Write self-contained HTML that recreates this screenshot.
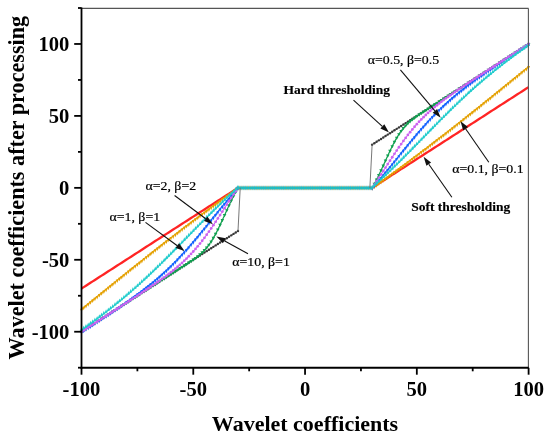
<!DOCTYPE html>
<html><head><meta charset="utf-8"><style>
html,body{margin:0;padding:0;background:#fff;}
body{width:550px;height:439px;overflow:hidden;}
svg{display:block;}
</style></head><body>
<svg width="550" height="439" viewBox="0 0 550 439">
<defs>
<marker id="m_hard" markerUnits="userSpaceOnUse" markerWidth="8" markerHeight="8" refX="4" refY="4"><circle cx="4" cy="4" r="1.2" fill="#383838"/></marker>
<marker id="m_orange" markerUnits="userSpaceOnUse" markerWidth="8" markerHeight="8" refX="4" refY="4"><path d="M2.55,3.5 L5.45,3.5 L4,7.0 Z" fill="#e4a000"/></marker>
<marker id="m_green" markerUnits="userSpaceOnUse" markerWidth="8" markerHeight="8" refX="4" refY="4"><path d="M2.2,2.95 L5.8,2.95 L4,6.15 Z" fill="#10a050"/></marker>
<marker id="m_blue" markerUnits="userSpaceOnUse" markerWidth="8" markerHeight="8" refX="4" refY="4"><path d="M2.55,3.5 L5.45,3.5 L4,7.0 Z" fill="#1060ff"/></marker>
<marker id="m_magenta" markerUnits="userSpaceOnUse" markerWidth="8" markerHeight="8" refX="4" refY="4"><circle cx="4" cy="4" r="1.4" fill="#cc62f0"/></marker>
<marker id="m_cyan" markerUnits="userSpaceOnUse" markerWidth="8" markerHeight="8" refX="4" refY="4"><path d="M2.55,4.5 L5.45,4.5 L4,1.0 Z" fill="#20cccc"/></marker>
</defs>
<rect width="550" height="439" fill="#fff"/>
<polyline points="81.50,331.73 83.74,330.29 85.97,328.85 88.21,327.41 90.44,325.97 92.68,324.54 94.91,323.10 97.15,321.66 99.38,320.22 101.62,318.78 103.86,317.34 106.09,315.90 108.33,314.46 110.56,313.03 112.80,311.59 115.03,310.15 117.27,308.71 119.50,307.27 121.74,305.83 123.97,304.39 126.21,302.95 128.45,301.52 130.68,300.08 132.92,298.64 135.15,297.20 137.39,295.76 139.62,294.32 141.86,292.88 144.09,291.44 146.33,290.00 148.56,288.57 150.80,287.13 153.04,285.69 155.27,284.25 157.51,282.81 159.74,281.37 161.98,279.93 164.21,278.49 166.45,277.06 168.68,275.62 170.92,274.18 173.16,272.74 175.39,271.30 177.63,269.86 179.86,268.42 182.10,266.98 184.33,265.55 186.57,264.11 188.80,262.67 191.04,261.23 193.28,259.79 195.51,258.35 197.75,256.91 199.98,255.47 202.22,254.03 204.45,252.60 206.69,251.16 208.92,249.72 211.16,248.28 213.39,246.84 215.63,245.40 217.87,243.96 220.10,242.52 222.34,241.09 224.57,239.65 226.81,238.21 229.04,236.77 231.28,235.33 233.51,233.89 235.75,232.45 237.99,231.01" fill="none" stroke="#383838" stroke-width="0.7" stroke-linejoin="round" marker-start="url(#m_hard)" marker-mid="url(#m_hard)" marker-end="url(#m_hard)"/>
<polyline points="240.22,187.85 242.46,187.85 244.69,187.85 246.93,187.85 249.16,187.85 251.40,187.85 253.63,187.85 255.87,187.85 258.10,187.85 260.34,187.85 262.58,187.85 264.81,187.85 267.05,187.85 269.28,187.85 271.52,187.85 273.75,187.85 275.99,187.85 278.22,187.85 280.46,187.85 282.69,187.85 284.93,187.85 287.17,187.85 289.40,187.85 291.64,187.85 293.87,187.85 296.11,187.85 298.34,187.85 300.58,187.85 302.81,187.85 305.05,187.85 307.29,187.85 309.52,187.85 311.76,187.85 313.99,187.85 316.23,187.85 318.46,187.85 320.70,187.85 322.93,187.85 325.17,187.85 327.40,187.85 329.64,187.85 331.88,187.85 334.11,187.85 336.35,187.85 338.58,187.85 340.82,187.85 343.05,187.85 345.29,187.85 347.52,187.85 349.76,187.85 352.00,187.85 354.23,187.85 356.47,187.85 358.70,187.85 360.94,187.85 363.17,187.85 365.41,187.85 367.64,187.85 369.88,187.85" fill="none" stroke="#383838" stroke-width="0.7" stroke-linejoin="round" marker-start="url(#m_hard)" marker-mid="url(#m_hard)" marker-end="url(#m_hard)"/>
<polyline points="372.12,144.69 374.35,143.25 376.59,141.81 378.82,140.37 381.06,138.93 383.29,137.49 385.53,136.05 387.76,134.61 390.00,133.18 392.23,131.74 394.47,130.30 396.71,128.86 398.94,127.42 401.18,125.98 403.41,124.54 405.65,123.10 407.88,121.67 410.12,120.23 412.35,118.79 414.59,117.35 416.82,115.91 419.06,114.47 421.30,113.03 423.53,111.59 425.77,110.15 428.00,108.72 430.24,107.28 432.47,105.84 434.71,104.40 436.94,102.96 439.18,101.52 441.42,100.08 443.65,98.64 445.89,97.21 448.12,95.77 450.36,94.33 452.59,92.89 454.83,91.45 457.06,90.01 459.30,88.57 461.54,87.13 463.77,85.70 466.01,84.26 468.24,82.82 470.48,81.38 472.71,79.94 474.95,78.50 477.18,77.06 479.42,75.62 481.65,74.18 483.89,72.75 486.13,71.31 488.36,69.87 490.60,68.43 492.83,66.99 495.07,65.55 497.30,64.11 499.54,62.67 501.77,61.24 504.01,59.80 506.25,58.36 508.48,56.92 510.72,55.48 512.95,54.04 515.19,52.60 517.42,51.16 519.66,49.73 521.89,48.29 524.13,46.85 526.36,45.41 528.60,43.97" fill="none" stroke="#383838" stroke-width="0.7" stroke-linejoin="round" marker-start="url(#m_hard)" marker-mid="url(#m_hard)" marker-end="url(#m_hard)"/>
<polyline points="81.50,288.57 83.74,287.13 85.97,285.69 88.21,284.25 90.44,282.81 92.68,281.37 94.91,279.93 97.15,278.49 99.38,277.06 101.62,275.62 103.86,274.18 106.09,272.74 108.33,271.30 110.56,269.86 112.80,268.42 115.03,266.98 117.27,265.55 119.50,264.11 121.74,262.67 123.97,261.23 126.21,259.79 128.45,258.35 130.68,256.91 132.92,255.47 135.15,254.03 137.39,252.60 139.62,251.16 141.86,249.72 144.09,248.28 146.33,246.84 148.56,245.40 150.80,243.96 153.04,242.52 155.27,241.09 157.51,239.65 159.74,238.21 161.98,236.77 164.21,235.33 166.45,233.89 168.68,232.45 170.92,231.01 173.16,229.58 175.39,228.14 177.63,226.70 179.86,225.26 182.10,223.82 184.33,222.38 186.57,220.94 188.80,219.50 191.04,218.06 193.28,216.63 195.51,215.19 197.75,213.75 199.98,212.31 202.22,210.87 204.45,209.43 206.69,207.99 208.92,206.55 211.16,205.12 213.39,203.68 215.63,202.24 217.87,200.80 220.10,199.36 222.34,197.92 224.57,196.48 226.81,195.04 229.04,193.61 231.28,192.17 233.51,190.73 235.75,189.29 237.99,187.85" fill="none" stroke="#ff2424" stroke-width="2.3" stroke-linejoin="round"/>
<polyline points="372.12,187.85 374.35,186.41 376.59,184.97 378.82,183.53 381.06,182.09 383.29,180.66 385.53,179.22 387.76,177.78 390.00,176.34 392.23,174.90 394.47,173.46 396.71,172.02 398.94,170.58 401.18,169.15 403.41,167.71 405.65,166.27 407.88,164.83 410.12,163.39 412.35,161.95 414.59,160.51 416.82,159.07 419.06,157.64 421.30,156.20 423.53,154.76 425.77,153.32 428.00,151.88 430.24,150.44 432.47,149.00 434.71,147.56 436.94,146.12 439.18,144.69 441.42,143.25 443.65,141.81 445.89,140.37 448.12,138.93 450.36,137.49 452.59,136.05 454.83,134.61 457.06,133.18 459.30,131.74 461.54,130.30 463.77,128.86 466.01,127.42 468.24,125.98 470.48,124.54 472.71,123.10 474.95,121.67 477.18,120.23 479.42,118.79 481.65,117.35 483.89,115.91 486.13,114.47 488.36,113.03 490.60,111.59 492.83,110.15 495.07,108.72 497.30,107.28 499.54,105.84 501.77,104.40 504.01,102.96 506.25,101.52 508.48,100.08 510.72,98.64 512.95,97.21 515.19,95.77 517.42,94.33 519.66,92.89 521.89,91.45 524.13,90.01 526.36,88.57 528.60,87.13" fill="none" stroke="#ff2424" stroke-width="2.3" stroke-linejoin="round"/>
<polyline points="81.50,309.14 83.74,307.32 85.97,305.50 88.21,303.68 90.44,301.86 92.68,300.05 94.91,298.23 97.15,296.41 99.38,294.59 101.62,292.78 103.86,290.96 106.09,289.15 108.33,287.33 110.56,285.52 112.80,283.71 115.03,281.90 117.27,280.10 119.50,278.29 121.74,276.49 123.97,274.69 126.21,272.90 128.45,271.10 130.68,269.31 132.92,267.52 135.15,265.73 137.39,263.95 139.62,262.17 141.86,260.39 144.09,258.62 146.33,256.84 148.56,255.08 150.80,253.31 153.04,251.55 155.27,249.79 157.51,248.04 159.74,246.29 161.98,244.55 164.21,242.81 166.45,241.07 168.68,239.33 170.92,237.60 173.16,235.88 175.39,234.16 177.63,232.44 179.86,230.73 182.10,229.02 184.33,227.32 186.57,225.62 188.80,223.93 191.04,222.24 193.28,220.55 195.51,218.87 197.75,217.20 199.98,215.52 202.22,213.86 204.45,212.20 206.69,210.54 208.92,208.89 211.16,207.24 213.39,205.60 215.63,203.96 217.87,202.33 220.10,200.70 222.34,199.08 224.57,197.46 226.81,195.84 229.04,194.24 231.28,192.63 233.51,191.03 235.75,189.44 237.99,187.85" fill="none" stroke="#e4a000" stroke-width="1.15" stroke-linejoin="round" marker-start="url(#m_orange)" marker-mid="url(#m_orange)" marker-end="url(#m_orange)"/>
<polyline points="372.12,187.85 374.35,186.26 376.59,184.67 378.82,183.07 381.06,181.46 383.29,179.86 385.53,178.24 387.76,176.62 390.00,175.00 392.23,173.37 394.47,171.74 396.71,170.10 398.94,168.46 401.18,166.81 403.41,165.16 405.65,163.50 407.88,161.84 410.12,160.18 412.35,158.50 414.59,156.83 416.82,155.15 419.06,153.46 421.30,151.77 423.53,150.08 425.77,148.38 428.00,146.68 430.24,144.97 432.47,143.26 434.71,141.54 436.94,139.82 439.18,138.10 441.42,136.37 443.65,134.63 445.89,132.89 448.12,131.15 450.36,129.41 452.59,127.66 454.83,125.91 457.06,124.15 459.30,122.39 461.54,120.62 463.77,118.86 466.01,117.08 468.24,115.31 470.48,113.53 472.71,111.75 474.95,109.97 477.18,108.18 479.42,106.39 481.65,104.60 483.89,102.80 486.13,101.01 488.36,99.21 490.60,97.41 492.83,95.60 495.07,93.80 497.30,91.99 499.54,90.18 501.77,88.37 504.01,86.55 506.25,84.74 508.48,82.92 510.72,81.11 512.95,79.29 515.19,77.47 517.42,75.65 519.66,73.84 521.89,72.02 524.13,70.20 526.36,68.38 528.60,66.56" fill="none" stroke="#e4a000" stroke-width="1.15" stroke-linejoin="round" marker-start="url(#m_orange)" marker-mid="url(#m_orange)" marker-end="url(#m_orange)"/>
<polyline points="81.50,331.73 83.74,330.29 85.97,328.85 88.21,327.41 90.44,325.97 92.68,324.54 94.91,323.10 97.15,321.66 99.38,320.22 101.62,318.78 103.86,317.34 106.09,315.90 108.33,314.46 110.56,313.03 112.80,311.59 115.03,310.15 117.27,308.71 119.50,307.27 121.74,305.83 123.97,304.39 126.21,302.95 128.45,301.52 130.68,300.08 132.92,298.64 135.15,297.20 137.39,295.76 139.62,294.32 141.86,292.88 144.09,291.44 146.33,290.00 148.56,288.57 150.80,287.13 153.04,285.69 155.27,284.25 157.51,282.81 159.74,281.37 161.98,279.93 164.21,278.49 166.45,277.06 168.68,275.62 170.92,274.18 173.16,272.74 175.39,271.30 177.63,269.86 179.86,268.42 182.10,266.97 184.33,265.52 186.57,264.06 188.80,262.59 191.04,261.09 193.28,259.54 195.51,257.94 197.75,256.23 199.98,254.40 202.22,252.38 204.45,250.14 206.69,247.61 208.92,244.74 211.16,241.50 213.39,237.87 215.63,233.86 217.87,229.51 220.10,224.88 222.34,220.06 224.57,215.13 226.81,210.20 229.04,205.35 231.28,200.65 233.51,196.15 235.75,191.88 237.99,187.85" fill="none" stroke="#10a050" stroke-width="1.2" stroke-linejoin="round" marker-start="url(#m_green)" marker-mid="url(#m_green)" marker-end="url(#m_green)"/>
<polyline points="372.12,187.85 374.35,183.82 376.59,179.55 378.82,175.05 381.06,170.35 383.29,165.50 385.53,160.57 387.76,155.64 390.00,150.82 392.23,146.19 394.47,141.84 396.71,137.83 398.94,134.20 401.18,130.96 403.41,128.09 405.65,125.56 407.88,123.32 410.12,121.30 412.35,119.47 414.59,117.76 416.82,116.16 419.06,114.61 421.30,113.11 423.53,111.64 425.77,110.18 428.00,108.73 430.24,107.28 432.47,105.84 434.71,104.40 436.94,102.96 439.18,101.52 441.42,100.08 443.65,98.64 445.89,97.21 448.12,95.77 450.36,94.33 452.59,92.89 454.83,91.45 457.06,90.01 459.30,88.57 461.54,87.13 463.77,85.70 466.01,84.26 468.24,82.82 470.48,81.38 472.71,79.94 474.95,78.50 477.18,77.06 479.42,75.62 481.65,74.18 483.89,72.75 486.13,71.31 488.36,69.87 490.60,68.43 492.83,66.99 495.07,65.55 497.30,64.11 499.54,62.67 501.77,61.24 504.01,59.80 506.25,58.36 508.48,56.92 510.72,55.48 512.95,54.04 515.19,52.60 517.42,51.16 519.66,49.73 521.89,48.29 524.13,46.85 526.36,45.41 528.60,43.97" fill="none" stroke="#10a050" stroke-width="1.2" stroke-linejoin="round" marker-start="url(#m_green)" marker-mid="url(#m_green)" marker-end="url(#m_green)"/>
<polyline points="81.50,331.68 83.74,330.24 85.97,328.79 88.21,327.34 90.44,325.89 92.68,324.43 94.91,322.98 97.15,321.52 99.38,320.06 101.62,318.59 103.86,317.12 106.09,315.65 108.33,314.17 110.56,312.69 112.80,311.20 115.03,309.70 117.27,308.19 119.50,306.68 121.74,305.15 123.97,303.61 126.21,302.06 128.45,300.50 130.68,298.92 132.92,297.33 135.15,295.72 137.39,294.08 139.62,292.43 141.86,290.75 144.09,289.05 146.33,287.31 148.56,285.55 150.80,283.76 153.04,281.93 155.27,280.07 157.51,278.17 159.74,276.23 161.98,274.25 164.21,272.23 166.45,270.16 168.68,268.04 170.92,265.88 173.16,263.67 175.39,261.41 177.63,259.11 179.86,256.75 182.10,254.35 184.33,251.91 186.57,249.42 188.80,246.88 191.04,244.31 193.28,241.71 195.51,239.06 197.75,236.39 199.98,233.69 202.22,230.97 204.45,228.24 206.69,225.49 208.92,222.73 211.16,219.96 213.39,217.20 215.63,214.44 217.87,211.68 220.10,208.94 222.34,206.22 224.57,203.51 226.81,200.83 229.04,198.17 231.28,195.55 233.51,192.95 235.75,190.38 237.99,187.85" fill="none" stroke="#1060ff" stroke-width="1.15" stroke-linejoin="round" marker-start="url(#m_blue)" marker-mid="url(#m_blue)" marker-end="url(#m_blue)"/>
<polyline points="372.12,187.85 374.35,185.32 376.59,182.75 378.82,180.15 381.06,177.53 383.29,174.87 385.53,172.19 387.76,169.48 390.00,166.76 392.23,164.02 394.47,161.26 396.71,158.50 398.94,155.74 401.18,152.97 403.41,150.21 405.65,147.46 407.88,144.73 410.12,142.01 412.35,139.31 414.59,136.64 416.82,133.99 419.06,131.39 421.30,128.82 423.53,126.28 425.77,123.79 428.00,121.35 430.24,118.95 432.47,116.59 434.71,114.29 436.94,112.03 439.18,109.82 441.42,107.66 443.65,105.54 445.89,103.47 448.12,101.45 450.36,99.47 452.59,97.53 454.83,95.63 457.06,93.77 459.30,91.94 461.54,90.15 463.77,88.39 466.01,86.65 468.24,84.95 470.48,83.27 472.71,81.62 474.95,79.98 477.18,78.37 479.42,76.78 481.65,75.20 483.89,73.64 486.13,72.09 488.36,70.55 490.60,69.02 492.83,67.51 495.07,66.00 497.30,64.50 499.54,63.01 501.77,61.53 504.01,60.05 506.25,58.58 508.48,57.11 510.72,55.64 512.95,54.18 515.19,52.72 517.42,51.27 519.66,49.81 521.89,48.36 524.13,46.91 526.36,45.46 528.60,44.02" fill="none" stroke="#1060ff" stroke-width="1.15" stroke-linejoin="round" marker-start="url(#m_blue)" marker-mid="url(#m_blue)" marker-end="url(#m_blue)"/>
<polyline points="81.50,331.73 83.74,330.29 85.97,328.85 88.21,327.41 90.44,325.97 92.68,324.54 94.91,323.10 97.15,321.66 99.38,320.22 101.62,318.78 103.86,317.34 106.09,315.90 108.33,314.46 110.56,313.02 112.80,311.58 115.03,310.14 117.27,308.69 119.50,307.25 121.74,305.81 123.97,304.36 126.21,302.91 128.45,301.47 130.68,300.02 132.92,298.56 135.15,297.11 137.39,295.64 139.62,294.18 141.86,292.71 144.09,291.23 146.33,289.74 148.56,288.25 150.80,286.74 153.04,285.22 155.27,283.69 157.51,282.13 159.74,280.56 161.98,278.96 164.21,277.33 166.45,275.68 168.68,273.99 170.92,272.25 173.16,270.47 175.39,268.64 177.63,266.76 179.86,264.81 182.10,262.79 184.33,260.70 186.57,258.53 188.80,256.27 191.04,253.93 193.28,251.48 195.51,248.94 197.75,246.31 199.98,243.57 202.22,240.73 204.45,237.79 206.69,234.76 208.92,231.64 211.16,228.44 213.39,225.17 215.63,221.84 217.87,218.46 220.10,215.05 222.34,211.60 224.57,208.15 226.81,204.70 229.04,201.26 231.28,197.84 233.51,194.46 235.75,191.13 237.99,187.85" fill="none" stroke="#cc62f0" stroke-width="1.0" stroke-linejoin="round" marker-start="url(#m_magenta)" marker-mid="url(#m_magenta)" marker-end="url(#m_magenta)"/>
<polyline points="372.12,187.85 374.35,184.57 376.59,181.24 378.82,177.86 381.06,174.44 383.29,171.00 385.53,167.55 387.76,164.10 390.00,160.65 392.23,157.24 394.47,153.86 396.71,150.53 398.94,147.26 401.18,144.06 403.41,140.94 405.65,137.91 407.88,134.97 410.12,132.13 412.35,129.39 414.59,126.76 416.82,124.22 419.06,121.77 421.30,119.43 423.53,117.17 425.77,115.00 428.00,112.91 430.24,110.89 432.47,108.94 434.71,107.06 436.94,105.23 439.18,103.45 441.42,101.71 443.65,100.02 445.89,98.37 448.12,96.74 450.36,95.14 452.59,93.57 454.83,92.01 457.06,90.48 459.30,88.96 461.54,87.45 463.77,85.96 466.01,84.47 468.24,82.99 470.48,81.52 472.71,80.06 474.95,78.59 477.18,77.14 479.42,75.68 481.65,74.23 483.89,72.79 486.13,71.34 488.36,69.89 490.60,68.45 492.83,67.01 495.07,65.56 497.30,64.12 499.54,62.68 501.77,61.24 504.01,59.80 506.25,58.36 508.48,56.92 510.72,55.48 512.95,54.04 515.19,52.60 517.42,51.16 519.66,49.73 521.89,48.29 524.13,46.85 526.36,45.41 528.60,43.97" fill="none" stroke="#cc62f0" stroke-width="1.0" stroke-linejoin="round" marker-start="url(#m_magenta)" marker-mid="url(#m_magenta)" marker-end="url(#m_magenta)"/>
<polyline points="81.50,330.18 83.74,328.61 85.97,327.02 88.21,325.42 90.44,323.81 92.68,322.18 94.91,320.55 97.15,318.90 99.38,317.23 101.62,315.55 103.86,313.86 106.09,312.14 108.33,310.41 110.56,308.67 112.80,306.90 115.03,305.12 117.27,303.32 119.50,301.49 121.74,299.65 123.97,297.79 126.21,295.90 128.45,294.00 130.68,292.07 132.92,290.12 135.15,288.16 137.39,286.16 139.62,284.15 141.86,282.12 144.09,280.06 146.33,277.99 148.56,275.89 150.80,273.78 153.04,271.65 155.27,269.49 157.51,267.33 159.74,265.14 161.98,262.94 164.21,260.73 166.45,258.50 168.68,256.26 170.92,254.01 173.16,251.75 175.39,249.48 177.63,247.21 179.86,244.93 182.10,242.65 184.33,240.36 186.57,238.07 188.80,235.79 191.04,233.50 193.28,231.22 195.51,228.94 197.75,226.67 199.98,224.41 202.22,222.15 204.45,219.90 206.69,217.66 208.92,215.44 211.16,213.22 213.39,211.02 215.63,208.83 217.87,206.66 220.10,204.50 222.34,202.36 224.57,200.23 226.81,198.12 229.04,196.03 231.28,193.96 233.51,191.90 235.75,189.87 237.99,187.85" fill="none" stroke="#20cccc" stroke-width="1.15" stroke-linejoin="round" marker-start="url(#m_cyan)" marker-mid="url(#m_cyan)" marker-end="url(#m_cyan)"/>
<polyline points="372.12,187.85 374.35,185.83 376.59,183.80 378.82,181.74 381.06,179.67 383.29,177.58 385.53,175.47 387.76,173.34 390.00,171.20 392.23,169.04 394.47,166.87 396.71,164.68 398.94,162.48 401.18,160.26 403.41,158.04 405.65,155.80 407.88,153.55 410.12,151.29 412.35,149.03 414.59,146.76 416.82,144.48 419.06,142.20 421.30,139.91 423.53,137.63 425.77,135.34 428.00,133.05 430.24,130.77 432.47,128.49 434.71,126.22 436.94,123.95 439.18,121.69 441.42,119.44 443.65,117.20 445.89,114.97 448.12,112.76 450.36,110.56 452.59,108.37 454.83,106.21 457.06,104.05 459.30,101.92 461.54,99.81 463.77,97.71 466.01,95.64 468.24,93.58 470.48,91.55 472.71,89.54 474.95,87.54 477.18,85.58 479.42,83.63 481.65,81.70 483.89,79.80 486.13,77.91 488.36,76.05 490.60,74.21 492.83,72.38 495.07,70.58 497.30,68.80 499.54,67.03 501.77,65.29 504.01,63.56 506.25,61.84 508.48,60.15 510.72,58.47 512.95,56.80 515.19,55.15 517.42,53.52 519.66,51.89 521.89,50.28 524.13,48.68 526.36,47.09 528.60,45.52" fill="none" stroke="#20cccc" stroke-width="1.15" stroke-linejoin="round" marker-start="url(#m_cyan)" marker-mid="url(#m_cyan)" marker-end="url(#m_cyan)"/>
<defs><pattern id="zp" patternUnits="userSpaceOnUse" x="0" y="0" width="2.2355" height="10"><rect x="0" y="0" width="1.1" height="10" fill="#f2c466"/><rect x="1.1" y="0" width="1.14" height="10" fill="#6cc8ee"/></pattern></defs>
<rect x="238.88" y="185.75" width="132.34" height="4.4" fill="url(#zp)"/>
<rect x="237.09" y="186.65" width="135.92" height="2.6" fill="#22bcc0"/>
<line x1="240.22" y1="187.85" x2="237.99" y2="231.01" stroke="#707070" stroke-width="0.95"/>
<line x1="369.88" y1="187.85" x2="372.12" y2="144.69" stroke="#707070" stroke-width="0.95"/>
<line x1="81.5" y1="8.4" x2="528.6" y2="8.4" stroke="#555" stroke-width="1.1"/>
<line x1="528.4" y1="8.4" x2="528.4" y2="367.8" stroke="#555" stroke-width="1.1"/>
<line x1="81.5" y1="7.6" x2="81.5" y2="368.7" stroke="#000" stroke-width="1.8"/>
<line x1="80.6" y1="367.8" x2="528.8" y2="367.8" stroke="#000" stroke-width="1.9"/>
<line x1="74.2" y1="331.73" x2="81.5" y2="331.73" stroke="#000" stroke-width="1.8"/>
<line x1="81.50" y1="367.8" x2="81.50" y2="374.7" stroke="#000" stroke-width="1.8"/>
<line x1="74.2" y1="259.79" x2="81.5" y2="259.79" stroke="#000" stroke-width="1.8"/>
<line x1="193.28" y1="367.8" x2="193.28" y2="374.7" stroke="#000" stroke-width="1.8"/>
<line x1="74.2" y1="187.85" x2="81.5" y2="187.85" stroke="#000" stroke-width="1.8"/>
<line x1="305.05" y1="367.8" x2="305.05" y2="374.7" stroke="#000" stroke-width="1.8"/>
<line x1="74.2" y1="115.91" x2="81.5" y2="115.91" stroke="#000" stroke-width="1.8"/>
<line x1="416.82" y1="367.8" x2="416.82" y2="374.7" stroke="#000" stroke-width="1.8"/>
<line x1="74.2" y1="43.97" x2="81.5" y2="43.97" stroke="#000" stroke-width="1.8"/>
<line x1="528.60" y1="367.8" x2="528.60" y2="374.7" stroke="#000" stroke-width="1.8"/>
<line x1="78" y1="367.70" x2="81.5" y2="367.70" stroke="#000" stroke-width="1.8"/>
<line x1="78" y1="295.76" x2="81.5" y2="295.76" stroke="#000" stroke-width="1.8"/>
<line x1="78" y1="223.82" x2="81.5" y2="223.82" stroke="#000" stroke-width="1.8"/>
<line x1="78" y1="151.88" x2="81.5" y2="151.88" stroke="#000" stroke-width="1.8"/>
<line x1="78" y1="79.94" x2="81.5" y2="79.94" stroke="#000" stroke-width="1.8"/>
<line x1="78" y1="8.00" x2="81.5" y2="8.00" stroke="#000" stroke-width="1.8"/>
<line x1="137.39" y1="367.8" x2="137.39" y2="371.3" stroke="#000" stroke-width="1.8"/>
<line x1="249.16" y1="367.8" x2="249.16" y2="371.3" stroke="#000" stroke-width="1.8"/>
<line x1="360.94" y1="367.8" x2="360.94" y2="371.3" stroke="#000" stroke-width="1.8"/>
<line x1="472.71" y1="367.8" x2="472.71" y2="371.3" stroke="#000" stroke-width="1.8"/>
<g font-family="Liberation Serif, serif" font-weight="bold" font-size="20" fill="#000">
<text transform="translate(69.4,50.77) scale(1.03,1)" text-anchor="end">100</text>
<text transform="translate(69.4,122.71) scale(1.03,1)" text-anchor="end">50</text>
<text transform="translate(69.4,194.65) scale(1.03,1)" text-anchor="end">0</text>
<text transform="translate(69.4,266.59) scale(1.03,1)" text-anchor="end">-50</text>
<text transform="translate(69.4,338.53) scale(1.03,1)" text-anchor="end">-100</text>
<text transform="translate(81.50,396.2) scale(1.03,1)" text-anchor="middle">-100</text>
<text transform="translate(193.28,396.2) scale(1.03,1)" text-anchor="middle">-50</text>
<text transform="translate(305.05,396.2) scale(1.03,1)" text-anchor="middle">0</text>
<text transform="translate(416.82,396.2) scale(1.03,1)" text-anchor="middle">50</text>
<text transform="translate(528.60,396.2) scale(1.03,1)" text-anchor="middle">100</text>
</g>
<text x="305" y="431.4" text-anchor="middle" font-family="Liberation Serif, serif" font-weight="bold" font-size="22">Wavelet coefficients</text>
<text transform="translate(23.7,187.6) rotate(-90)" x="0" y="0" text-anchor="middle" font-family="Liberation Serif, serif" font-weight="bold" font-size="22.2">Wavelet coefficients after processing</text>
<line x1="353.5" y1="100.2" x2="382.3" y2="126.4" stroke="#111" stroke-width="1.1"/><polygon points="389.0,132.4 380.4,128.5 384.3,124.2" fill="#111"/>
<line x1="400.4" y1="69.9" x2="434.9" y2="110.8" stroke="#111" stroke-width="1.1"/><polygon points="440.7,117.7 432.7,112.7 437.1,108.9" fill="#111"/>
<line x1="488.8" y1="162.3" x2="465.6" y2="128.7" stroke="#111" stroke-width="1.1"/><polygon points="460.5,121.3 468.0,127.1 463.2,130.4" fill="#111"/>
<line x1="451.9" y1="197.2" x2="428.8" y2="164.2" stroke="#111" stroke-width="1.1"/><polygon points="423.6,156.8 431.1,162.5 426.4,165.8" fill="#111"/>
<line x1="174.6" y1="195.5" x2="205.7" y2="218.8" stroke="#111" stroke-width="1.1"/><polygon points="212.9,224.2 204.0,221.1 207.4,216.5" fill="#111"/>
<line x1="145.5" y1="222.4" x2="177.3" y2="245.7" stroke="#111" stroke-width="1.1"/><polygon points="184.6,251.0 175.6,248.0 179.0,243.3" fill="#111"/>
<line x1="248.0" y1="253.8" x2="224.3" y2="240.7" stroke="#111" stroke-width="1.1"/><polygon points="216.4,236.4 225.7,238.2 222.9,243.3" fill="#111"/>
<text transform="translate(283.4,94.2) scale(1.0,1)" font-family="Liberation Serif, serif" font-size="13.5" font-weight="bold" fill="#000" stroke="#000" stroke-width="0.15">Hard thresholding</text>
<text transform="translate(411.2,211.2) scale(1.0,1)" font-family="Liberation Serif, serif" font-size="13.5" font-weight="bold" fill="#000" stroke="#000" stroke-width="0.15">Soft thresholding</text>
<text transform="translate(367.8,63.8) scale(1.065,1)" font-family="Liberation Serif, serif" font-size="13.0" fill="#000" stroke="#000" stroke-width="0.2">α=0.5, β=0.5</text>
<text transform="translate(452.3,172.5) scale(1.065,1)" font-family="Liberation Serif, serif" font-size="13.0" fill="#000" stroke="#000" stroke-width="0.2">α=0.1, β=0.1</text>
<text transform="translate(145.5,190.4) scale(1.065,1)" font-family="Liberation Serif, serif" font-size="13.0" fill="#000" stroke="#000" stroke-width="0.2">α=2, β=2</text>
<text transform="translate(109.5,220.9) scale(1.065,1)" font-family="Liberation Serif, serif" font-size="13.0" fill="#000" stroke="#000" stroke-width="0.2">α=1, β=1</text>
<text transform="translate(232.3,266.0) scale(1.065,1)" font-family="Liberation Serif, serif" font-size="13.0" fill="#000" stroke="#000" stroke-width="0.2">α=10, β=1</text>
</svg>
</body></html>
